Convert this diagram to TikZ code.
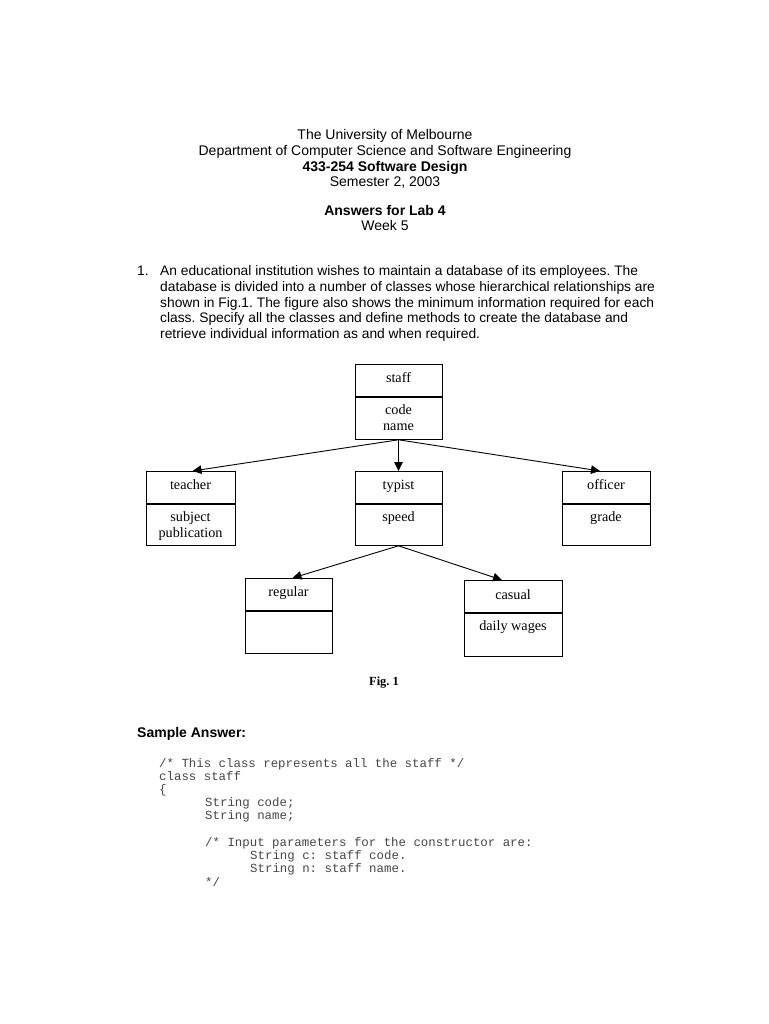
\documentclass[tikz,border=0pt]{standalone}
\usepackage{fontspec}
\setmainfont{Liberation Sans}
\newfontfamily\tms{Liberation Serif}
\newfontfamily\crr{Liberation Mono}
\usetikzlibrary{arrows.meta,calc}
\frenchspacing
\begin{document}
\begin{tikzpicture}[x=1pt,y=-1pt,
  txt/.style={inner sep=0pt,anchor=base,font=\fontsize{14}{15.7}\selectfont},
  para/.style={inner sep=0pt,anchor=base west,font=\fontsize{13.8}{15.7}\selectfont},
  code/.style={inner sep=0pt,anchor=base west,text=black!72,font=\crr\fontsize{12.4}{13}\selectfont},
  comp/.style={draw,line width=0.9pt,inner sep=0pt,anchor=north},
  cls/.style={inner sep=0pt,anchor=base,font=\tms\fontsize{14.2}{16}\selectfont},
  inh/.style={line width=0.9pt,-{Triangle[length=9pt,width=8.5pt]}}]
\useasboundingbox (0,0) rectangle (768,1024);
\fill[white] (0,0) rectangle (768,1024);

% header
\node[txt] (h1) at (385,140) {The University of Melbourne};
\node[txt] (h2) at (385,155.7) {Department of Computer Science and Software Engineering};
\node[txt,font=\bfseries\fontsize{14}{15.7}\selectfont] (h3) at (385,171.4) {433-254 Software Design};
\node[txt] (h4) at (385,187) {Semester 2, 2003};
\node[txt,font=\bfseries\fontsize{14}{15.7}\selectfont] (h5) at (385,215) {Answers for Lab 4};
\node[txt] (h6) at (385,231) {Week 5};

% question
\node[para] (q0) at (137,275) {1.};
\node[para] (q1) at (160,275) {An educational institution wishes to maintain a database of its employees. The};
\node[para] (q2) at (160,291) {database is divided into a number of classes whose hierarchical relationships are};
\node[para] (q3) at (160,307) {shown in Fig.1. The figure also shows the minimum information required for each};
\node[para] (q4) at (160,322) {class. Specify all the classes and define methods to create the database and};
\node[para] (q5) at (160,338) {retrieve individual information as and when required.};

% class boxes
\node[comp,minimum width=87pt,minimum height=32pt] (staff) at (398.5,364) {};
\node[comp,minimum width=87pt,minimum height=42pt] (staffA) at (staff.south) {};
\node[cls] (staffN) at ($(staff.north)+(0,18)$) {staff};
\node[cls] (staffL1) at ($(staffA.north)+(0,18)$) {code};
\node[cls] (staffL2) at ($(staffA.north)+(0,34)$) {name};

\node[comp,minimum width=89pt,minimum height=32pt] (teacher) at (190.5,471) {};
\node[comp,minimum width=89pt,minimum height=41pt] (teacherA) at (teacher.south) {};
\node[cls] (teacherN) at ($(teacher.north)+(0,18)$) {teacher};
\node[cls] (teacherL1) at ($(teacherA.north)+(0,18)$) {subject};
\node[cls] (teacherL2) at ($(teacherA.north)+(0,34)$) {publication};

\node[comp,minimum width=87pt,minimum height=32pt] (typist) at (398.5,471) {};
\node[comp,minimum width=87pt,minimum height=41pt] (typistA) at (typist.south) {};
\node[cls] (typistN) at ($(typist.north)+(0,18)$) {typist};
\node[cls] (typistL1) at ($(typistA.north)+(0,18)$) {speed};

\node[comp,minimum width=88pt,minimum height=32pt] (officer) at (606,471) {};
\node[comp,minimum width=88pt,minimum height=41pt] (officerA) at (officer.south) {};
\node[cls] (officerN) at ($(officer.north)+(0,18)$) {officer};
\node[cls] (officerL1) at ($(officerA.north)+(0,18)$) {grade};

\node[comp,minimum width=87pt,minimum height=32pt] (regular) at (288.5,578) {};
\node[comp,minimum width=87pt,minimum height=42pt] (regularA) at (regular.south) {};
\node[cls] (regularN) at ($(regular.north)+(0,18)$) {regular};

\node[comp,minimum width=98pt,minimum height=32pt] (casual) at (513,580) {};
\node[comp,minimum width=98pt,minimum height=43pt] (casualA) at (casual.south) {};
\node[cls] (casualN) at ($(casual.north)+(0,19)$) {casual};
\node[cls] (casualL1) at ($(casualA.north)+(0,18)$) {daily wages};

% inheritance arrows
\draw[inh] (staffA.south) -- ($(teacher.north)+(2,0)$);
\draw[inh] (staffA.south) -- (typist.north);
\draw[inh] (staffA.south) -- ($(officer.north)+(-6,0)$);
\draw[inh] (typistA.south) -- ($(regular.north)+(4,0)$);
\draw[inh] (typistA.south) -- ($(casual.north)+(-11,0)$);

\node[cls,font=\tms\bfseries\fontsize{12.4}{14}\selectfont] (fig) at (384,685) {Fig. 1};

% sample answer
\node[para,font=\bfseries\fontsize{14}{15.7}\selectfont] (sa) at (137,737) {Sample Answer:};
\node[code] (c1) at (159,767) {/* This class represents all the staff */};
\node[code] (c2) at (159,780) {class staff};
\node[code] (c3) at (159,793) {\{};
\node[code] (c4) at (205,806.5) {String code;};
\node[code] (c5) at (205,819.7) {String name;};
\node[code] (c6) at (205,846.5) {/* Input parameters for the constructor are:};
\node[code] (c7) at (250,859.7) {String c: staff code.};
\node[code] (c8) at (250,872.9) {String n: staff name.};
\node[code] (c9) at (205,886) {*/};
\end{tikzpicture}
\end{document}
